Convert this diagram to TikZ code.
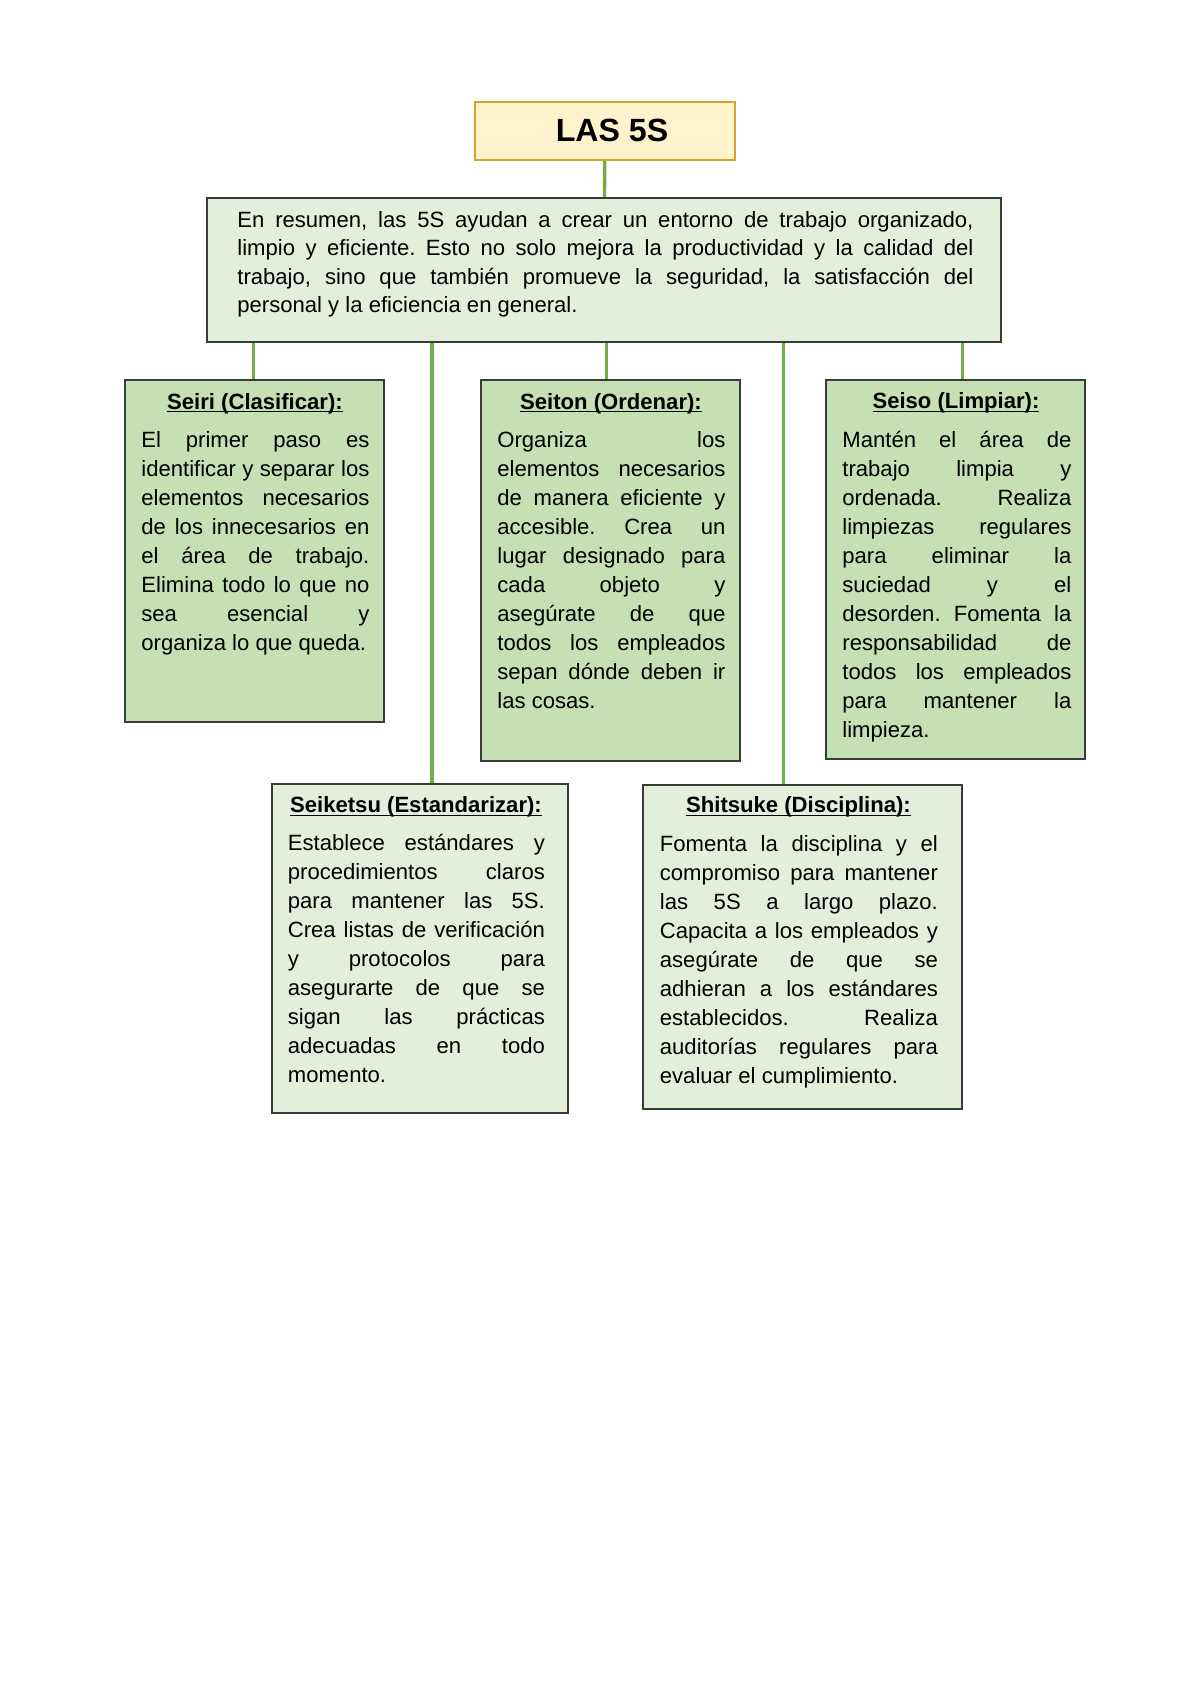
\documentclass[tikz,border=0pt]{standalone}
\usepackage{fontspec}
\setmainfont{Liberation Sans}
\usetikzlibrary{fit}

\definecolor{titlefill}{HTML}{FFF2CC}
\definecolor{titlegold}{HTML}{D4A52C}
\definecolor{framegray}{HTML}{3A3A3A}
\definecolor{boxdark}{HTML}{C5E0B4}
\definecolor{boxlight}{HTML}{E2EFDA}
\definecolor{linkgreen}{HTML}{70AD47}

\newcommand{\headline}[1]{\underline{\smash{#1}}}
\tolerance=10000
\hbadness=10000
\hyphenpenalty=10000
\frenchspacing

\begin{document}
\begin{tikzpicture}
[x=0.175mm,y=-0.175mm,
 titlebox/.style={draw=titlegold,fill=titlefill,line width=0.85pt,inner sep=0pt},
 darkbox/.style={draw=framegray,fill=boxdark,line width=0.85pt,inner sep=0pt},
 lightbox/.style={draw=framegray,fill=boxlight,line width=0.85pt,inner sep=0pt},
 link/.style={draw=linkgreen,line width=1.65pt},
 boxhead/.style={anchor=base,inner sep=0pt,font=\fontsize{11pt}{13pt}\selectfont\bfseries},
 boxtext/.style={anchor=base west,inner sep=0pt,align=justify,font=\fontsize{11pt}{14.45pt}\selectfont}]
\path[fill=white] (0,0) rectangle (1200,1696);

\node[titlebox,fit={(475,102) (735,160)}] (title) {};
\node[anchor=base,inner sep=0pt,font=\fontsize{16pt}{19pt}\selectfont\bfseries] (titletext) at (612,141) {LAS 5S};

\node[lightbox,fit={(207,198) (1001,342)}] (summary) {};
\node[boxtext,text width={736*0.175mm},font=\fontsize{11pt}{14.25pt}\selectfont] (summarytext) at (237,227)
{En resumen, las 5S ayudan a crear un entorno de trabajo organizado,\linebreak
limpio y eficiente. Esto no solo mejora la productividad y la calidad del\linebreak
trabajo, sino que también promueve la seguridad, la satisfacción del\linebreak
personal y la eficiencia en general.};

\node[darkbox,fit={(125,380) (384,722)}] (seiri) {};
\node[boxhead] (seirihead) at (255,409) {\headline{Seiri (Clasificar):}};
\node[boxtext,text width={228*0.175mm}] (seiritext) at (141,447)
{El primer paso es\linebreak
identificar y separar los\linebreak
elementos necesarios\linebreak
de los innecesarios en\linebreak
el área de trabajo.\linebreak
Elimina todo lo que no\linebreak
sea esencial y\linebreak
organiza lo que queda.};

\node[darkbox,fit={(481,380) (740,761)}] (seiton) {};
\node[boxhead] (seitonhead) at (611,409) {\headline{Seiton (Ordenar):}};
\node[boxtext,text width={228*0.175mm}] (seitontext) at (497,447)
{Organiza los\linebreak
elementos necesarios\linebreak
de manera eficiente y\linebreak
accesible. Crea un\linebreak
lugar designado para\linebreak
cada objeto y\linebreak
asegúrate de que\linebreak
todos los empleados\linebreak
sepan dónde deben ir\linebreak
las cosas.};

\node[darkbox,fit={(826,380) (1085,759)}] (seiso) {};
\node[boxhead] (seisohead) at (956,408.5) {\headline{Seiso (Limpiar):}};
\node[boxtext,text width={229*0.175mm}] (seisotext) at (842,447)
{Mantén el área de\linebreak
trabajo limpia y\linebreak
ordenada. Realiza\linebreak
limpiezas regulares\linebreak
para eliminar la\linebreak
suciedad y el\linebreak
desorden. Fomenta la\linebreak
responsabilidad de\linebreak
todos los empleados\linebreak
para mantener la\linebreak
limpieza.};

\node[lightbox,fit={(272,784) (568,1113)}] (seiketsu) {};
\node[boxhead] (seiketsuhead) at (416,812.5) {\headline{Seiketsu (Estandarizar):}};
\node[boxtext,text width={257*0.175mm}] (seiketsutext) at (287.5,850)
{Establece estándares y\linebreak
procedimientos claros\linebreak
para mantener las 5S.\linebreak
Crea listas de verificación\linebreak
y protocolos para\linebreak
asegurarte de que se\linebreak
sigan las prácticas\linebreak
adecuadas en todo\linebreak
momento.};

\node[lightbox,fit={(643,785) (962,1109)}] (shitsuke) {};
\node[boxhead] (shitsukehead) at (798.5,812.7) {\headline{Shitsuke (Disciplina):}};
\node[boxtext,text width={278*0.175mm}] (shitsuketext) at (659.5,851)
{Fomenta la disciplina y el\linebreak
compromiso para mantener\linebreak
las 5S a largo plazo.\linebreak
Capacita a los empleados y\linebreak
asegúrate de que se\linebreak
adhieran a los estándares\linebreak
establecidos. Realiza\linebreak
auditorías regulares para\linebreak
evaluar el cumplimiento.};

\draw[link] (title) -- (summary);
\foreach \b/\dx in {seiri/-1,seiketsu/12,seiton/-4,shitsuke/-19,seiso/7}{
\coordinate (\b top) at ([xshift={\dx*0.175mm}]\b.north);
\draw[link] (\b top |- summary.south) -- (\b top);
}
\end{tikzpicture}
\end{document}
